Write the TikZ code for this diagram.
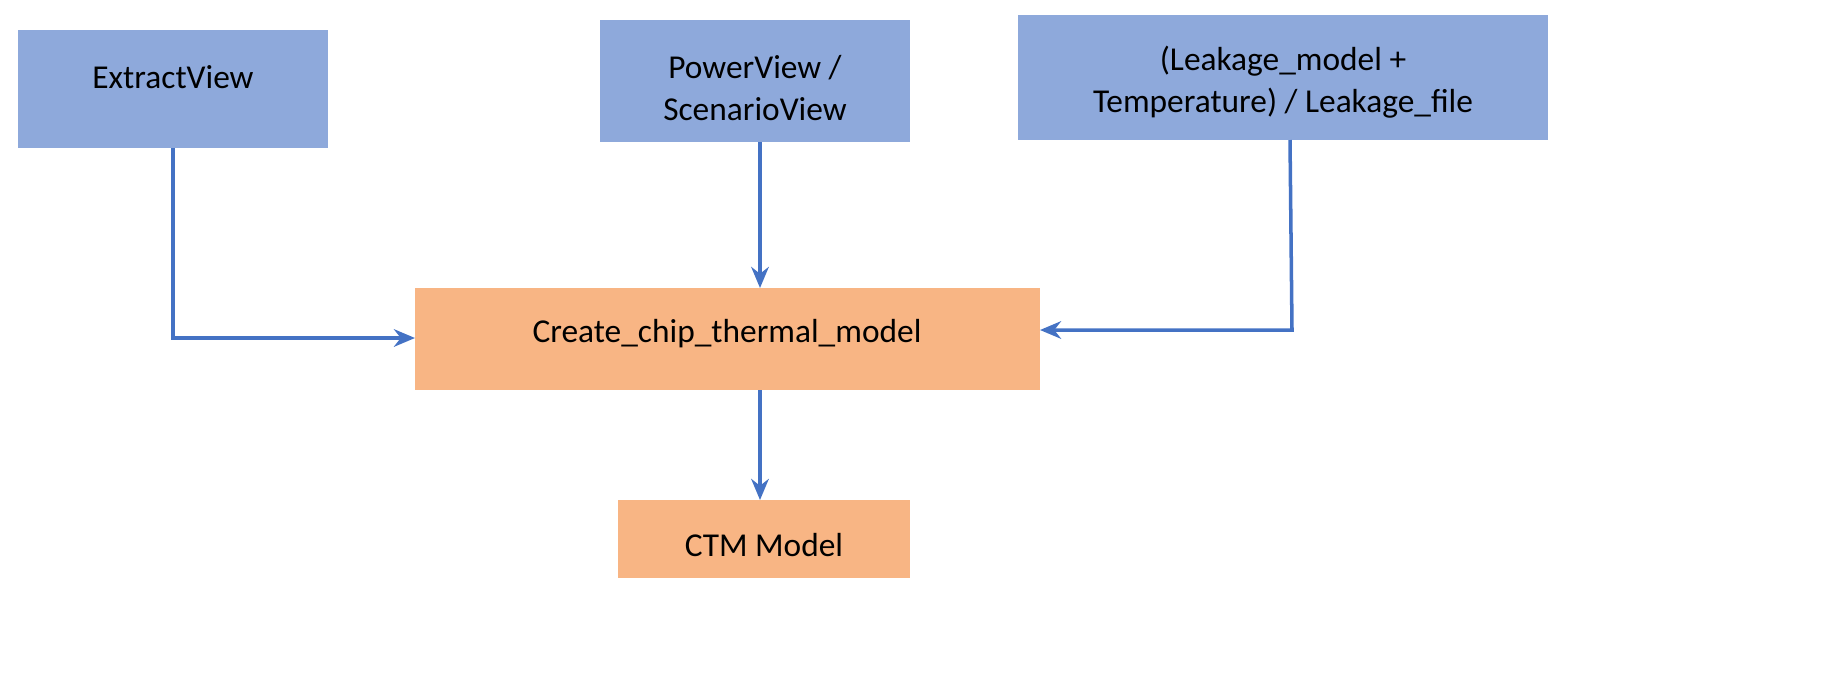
\documentclass[tikz,border=0pt]{standalone}
\usepackage{fontspec}
\setmainfont{Carlito}
\usetikzlibrary{arrows.meta}
\definecolor{bbox}{HTML}{8EA9DB}
\definecolor{obox}{HTML}{F8B584}
\definecolor{arr}{HTML}{4472C4}
\begin{document}
\begin{tikzpicture}[x=0.02cm,y=-0.02cm,
  box/.style={draw=none,inner sep=0pt,align=center,font=\fontsize{19}{24}\selectfont},
  ar/.style={draw=arr,line width=2pt,-{Stealth[length=12pt,width=10pt]}}]
\fill[bbox] (18,30) rectangle (328,148);
\node[box] (ev) at (173,77) {ExtractView};
\coordinate (evb) at (173,148);
\fill[bbox] (600,20) rectangle (910,142);
\node[box] (pv) at (755,88) {PowerView /\\ScenarioView};
\coordinate (pvb) at (760,142);
\fill[bbox] (1018,15) rectangle (1548,140);
\node[box] (lk) at (1283,82) {(Leakage\_model +\\Temperature) / Leakage\_file};
\coordinate (lkb) at (1290,140);
\fill[obox] (415,288) rectangle (1040,390);
\node[box] (cc) at (727,334) {Create\_chip\_thermal\_model};
\coordinate (ccl) at (415,338);
\coordinate (ccr) at (1040,330);
\coordinate (cct) at (760,288);
\coordinate (ccb) at (760,390);
\fill[obox] (618,500) rectangle (910,578);
\node[box] (ctm) at (764,545) {CTM Model};
\coordinate (ctmt) at (760,500);
\draw[ar] (evb) -- (173,338) -- (ccl);
\draw[ar] (pvb) -- (cct);
\draw[ar] (lkb) -- (1292,330) -- (ccr);
\draw[ar] (ccb) -- (ctmt);
\pgfresetboundingbox
\path[use as bounding box] (0,0) rectangle (1825,684);
\end{tikzpicture}
\end{document}
